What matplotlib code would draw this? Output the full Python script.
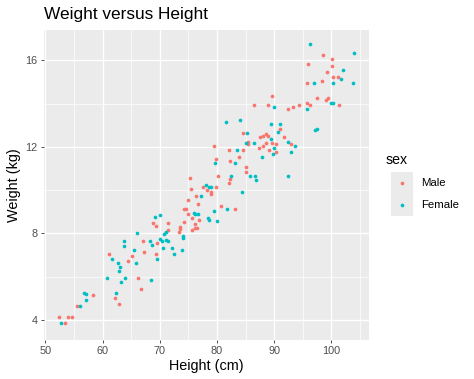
import matplotlib
matplotlib.use("Agg")
import matplotlib.pyplot as plt
from matplotlib.ticker import MultipleLocator

plt.rcParams['font.family'] = ['Liberation Sans', 'DejaVu Sans']

male_height = [61.1, 65.1, 64.4, 66.2, 66.7, 58.3, 62.2, 62.9, 55.6, 52.3, 54.0, 54.6, 53.5,
               82.2, 85.1, 85.1, 80.2, 82.2, 82.1, 75.2, 77.6, 75.5, 79.9, 78.3,
               79.0, 79.0, 76.4, 75.0, 76.7, 74.3, 74.6, 80.7, 83.2, 75.0, 75.7, 76.9, 74.2,
               68.9, 69.4, 71.4, 73.5, 73.6, 76.1, 76.2, 76.5, 75.6, 71.4, 73.4, 67.1, 69.5,
               67.2, 69.4,
               89.6, 86.5, 89.0, 92.4, 93.3, 94.4, 95.8, 84.6, 91.7, 87.5, 88.1, 88.5, 88.9,
               85.5, 85.2, 85.5, 88.5, 89.7, 90.3, 92.9, 79.5, 87.3, 88.0, 82.1, 84.5, 89.1,
               90.4, 83.9, 79.8, 91.0,
               98.6, 100.1, 100.1, 95.9, 99.2, 100.2, 101.1, 98.3, 95.7, 97.4, 99.0, 99.4,
               96.3, 101.3]
male_weight = [7.05, 6.96, 6.74, 5.94, 5.45, 5.14, 5.03, 4.74, 4.65, 4.14, 4.14, 4.14, 3.85,
               11.34, 11.05, 10.85, 10.65, 10.51, 10.33, 10.55, 10.13, 10.04,
               10.13, 10.0, 9.9, 9.83, 9.74, 9.53, 9.34, 9.13, 9.13, 9.25, 9.14, 8.88, 8.73,
               8.63, 8.54, 8.47, 8.36, 8.47, 8.31, 8.22, 8.45, 8.26, 8.26, 8.14, 8.14, 8.05,
               7.65, 7.56, 7.15, 7.03,
               14.35, 13.93, 13.93, 13.75, 13.84, 13.92, 14.01, 12.64, 12.45, 12.45, 12.51,
               12.58, 12.51, 12.24, 12.16, 12.12, 12.16, 12.16, 12.14, 12.13, 12.05, 11.93,
               12.04, 11.84, 11.84, 11.87, 11.75, 11.54, 11.45, 12.84,
               16.25, 16.04, 15.75, 15.84, 15.44, 15.24, 15.24, 15.04, 14.93, 14.24, 14.18,
               14.24, 13.94, 13.93]

female_height = [66.1, 63.7, 63.8, 65.5, 61.6, 62.7, 65.8, 63.0, 62.9, 60.7, 64.0, 63.3, 68.5,
                 62.4, 56.8, 57.1, 57.1, 56.1, 52.7,
                 79.7, 83.2, 82.5, 78.1, 78.6, 78.9, 84.4, 77.2, 81.8, 79.5, 75.9, 76.2, 76.6,
                 78.4, 78.6, 80.0, 69.1, 70.0, 71.0, 70.7, 74.1, 74.1, 70.0, 70.3, 71.1, 71.5,
                 68.3, 68.7, 70.5, 72.2, 73.8, 72.4, 69.5, 85.7,
                 90.0, 95.7, 81.5, 84.1, 89.4, 91.1, 85.2, 90.7, 89.4, 85.0, 86.4, 92.4, 93.7,
                 90.0, 83.5, 89.8, 92.9, 87.9, 86.7, 86.9, 92.4,
                 96.3, 104.0, 102.1, 101.6, 96.9, 100.2, 103.8, 99.9, 100.3, 97.1, 97.5]
female_weight = [8.03, 7.64, 7.43, 7.23, 6.83, 6.65, 6.65, 6.45, 6.25, 5.94, 5.94, 5.76, 5.85,
                 5.25, 5.25, 5.20, 4.94, 4.65, 3.85,
                 11.24, 11.24, 10.65, 10.24, 10.16, 10.13, 9.93, 9.74, 9.14, 9.03, 8.93, 8.88,
                 8.88, 8.73, 8.63, 8.56, 8.74, 8.85, 8.05, 7.96, 7.88, 7.80, 7.74, 7.65, 7.70,
                 7.65, 7.65, 7.45, 7.34, 7.34, 7.25, 7.05, 6.83, 10.65,
                 13.84, 13.75, 13.13, 13.24, 13.04, 13.04, 12.64, 12.70, 12.37, 12.16, 12.16,
                 12.24, 12.04, 11.93, 11.84, 11.65, 11.75, 11.54, 10.65, 10.45, 10.65,
                 16.75, 16.35, 15.55, 15.13, 14.95, 14.95, 14.95, 14.04, 14.04, 12.76, 12.82]

sex_levels = ["Male", "Female"]
colors = {"Male": "#F8766D", "Female": "#00BFC4"}

W, H = 474, 379
fig = plt.figure(figsize=(W / 100, H / 100), dpi=100)
ax = fig.add_axes([44 / W, 1 - 340 / H, (369 - 44) / W, (340 - 30) / H])
ax.set_facecolor("#EBEBEB")
for s in ax.spines.values():
    s.set_visible(False)

ax.set_xlim(49.76, 106.57)
ax.set_ylim(3.076, 17.395)
ax.xaxis.set_major_locator(MultipleLocator(10))
ax.xaxis.set_minor_locator(MultipleLocator(5))
ax.yaxis.set_major_locator(MultipleLocator(4))
ax.yaxis.set_minor_locator(MultipleLocator(2))
ax.grid(which="major", color="white", linewidth=1.0)
ax.grid(which="minor", color="white", linewidth=0.5)
ax.set_axisbelow(True)
ax.tick_params(which="major", length=2.5, width=0.6, color="#333333",
               labelsize=7.8, labelcolor="#4D4D4D", pad=2)
ax.tick_params(which="minor", length=0)

ax.scatter(male_height, male_weight, s=7, color=colors["Male"], linewidths=0, zorder=3)
ax.scatter(female_height, female_weight, s=7, color=colors["Female"], linewidths=0, zorder=3)

ax.set_xlabel("Height (cm)", fontsize=10.4, labelpad=2)
ax.set_ylabel("Weight (kg)", fontsize=10.4, labelpad=3)
fig.text(44 / W, 1 - 14 / H, "Weight versus Height", fontsize=12.4, va="center", ha="left")

# legend
fig.text(386 / W, 1 - 160 / H, "sex", fontsize=10.2, va="center", ha="left")
key_h = 22
for i, lab in enumerate(sex_levels):
    top = 172 + i * key_h
    kax = fig.add_axes([391 / W, 1 - (top + key_h) / H, 22 / W, key_h / H])
    kax.set_facecolor("#EBEBEB")
    kax.set_xlim(0, 1); kax.set_ylim(0, 1)
    kax.set_xticks([]); kax.set_yticks([])
    for s in kax.spines.values():
        s.set_visible(False)
    kax.scatter([0.5], [0.5], s=7, color=colors[lab], linewidths=0)
    fig.text(421 / W, 1 - (top + key_h / 2) / H, lab, fontsize=8.2, va="center", ha="left")

fig.savefig("out.png", dpi=100)
